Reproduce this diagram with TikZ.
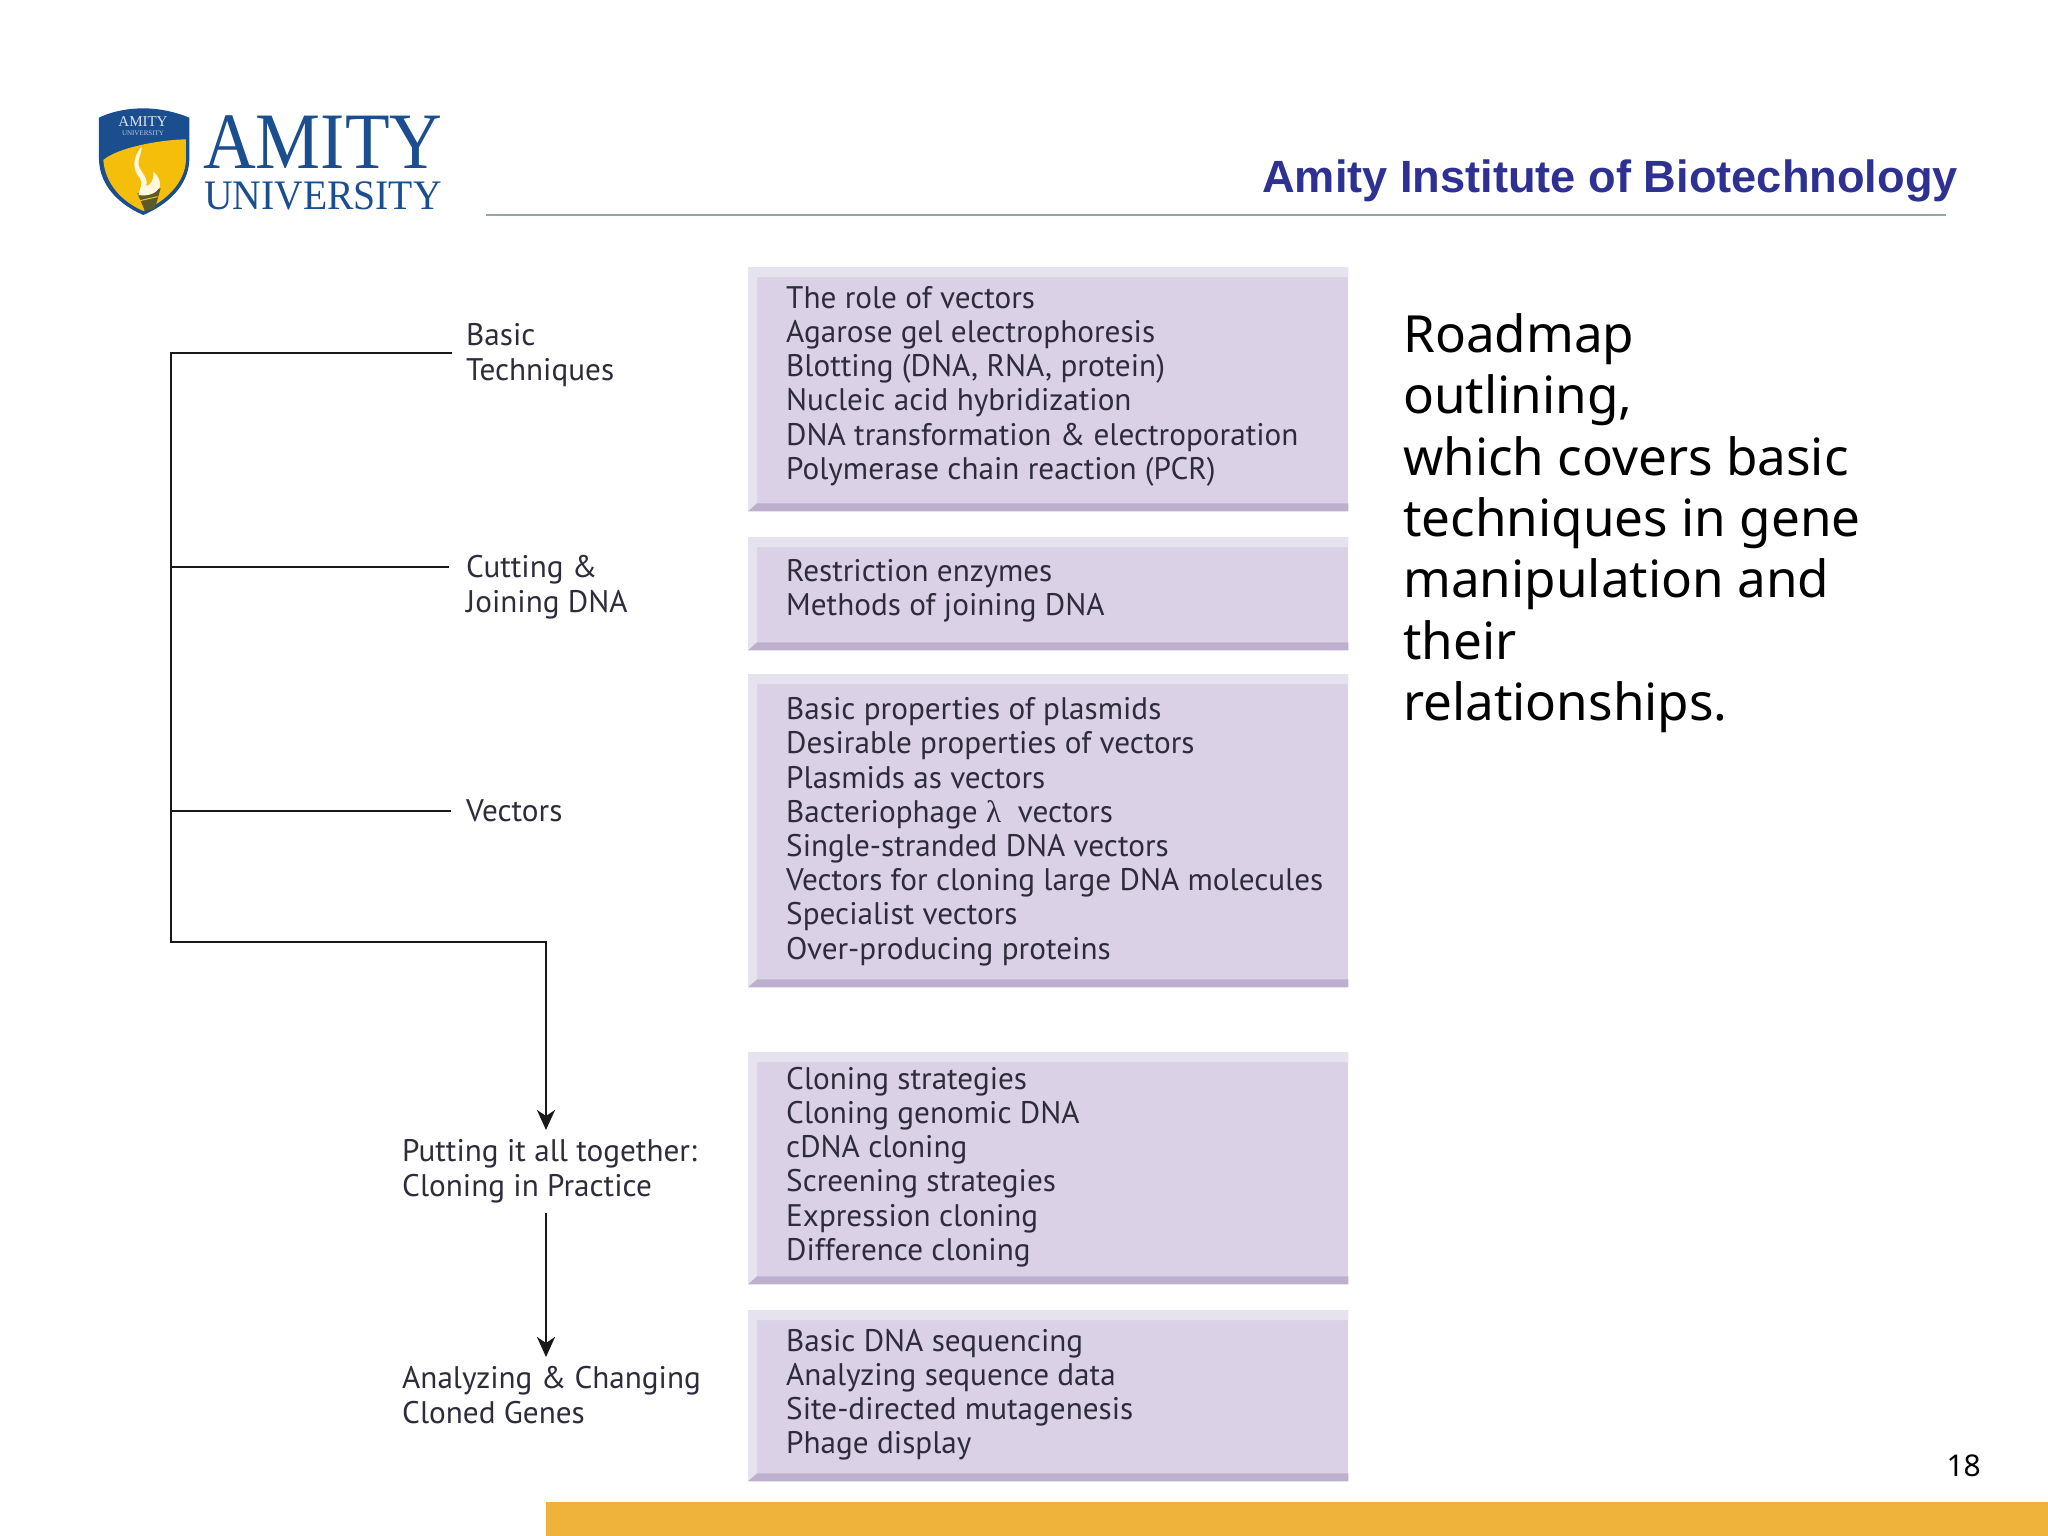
\documentclass[tikz,border=0pt]{standalone}
\usepackage{fontspec}
\usetikzlibrary{arrows.meta}
\setmainfont{Liberation Sans}
\newfontfamily\notefont{Noto Sans}
\newfontfamily\logofont{Liberation Serif}
\newfontfamily\figfont{PT Sans}
\definecolor{boxfill}{HTML}{DAD1E6}
\definecolor{boxtop}{HTML}{E6E2EE}
\definecolor{boxbot}{HTML}{BDB0CE}
\definecolor{figtext}{HTML}{2E2C3A}
\definecolor{headblue}{HTML}{2E3192}
\definecolor{rulecol}{HTML}{8FA8A6}
\definecolor{barcol}{HTML}{EFB23A}
\definecolor{logoblue}{HTML}{1B4E8F}
\definecolor{logogold}{HTML}{F5BE0B}
\definecolor{flamecol}{HTML}{FFF8E0}
\definecolor{torchcol}{HTML}{5C5A2A}
\newcommand{\firstline}{\rule{0pt}{24pt}}
\newcommand{\bevelbox}[1]{%
  \fill[boxtop] (#1.north west) -- (#1.north east) -- ([yshift=-10pt]#1.north east) -- ([xshift=9pt,yshift=-10pt]#1.north west) -- ([xshift=9pt,yshift=8pt]#1.south west) -- (#1.south west) -- cycle;
  \fill[boxbot] (#1.south west) -- ([xshift=9pt,yshift=8pt]#1.south west) -- ([yshift=8pt]#1.south east) -- (#1.south east) -- cycle;}
\tikzset{
  panel/.style={anchor=north west,minimum width=600pt,inner sep=0pt,fill=boxfill},
  paneltext/.style={anchor=north west,inner sep=0pt,align=left,text=figtext,font=\figfont\fontsize{31.2}{34.2}\selectfont},
  steplabel/.style={anchor=north west,inner sep=0pt,align=left,text=figtext,font=\figfont\fontsize{31.2}{35}\selectfont},
  link/.style={line width=2.8pt,draw=black!90},
  linkarrow/.style={link,-{Stealth[length=20pt,width=18pt,inset=6pt]}}
}
\begin{document}
\begin{tikzpicture}[x=1pt,y=-1pt]
\useasboundingbox (0,0) rectangle (2048,1536);
% footer bar and page number
\fill[barcol] (546,1502) rectangle (2048,1536);
\node[anchor=base east,inner sep=0pt,font=\notefont\fontsize{30}{34}\selectfont] (pageno) at (1981,1476) {18};
% header
\node[anchor=base east,inner sep=0pt,text=headblue,font=\bfseries\fontsize{45.2}{50}\selectfont] (head) at (1958,192) {Amity Institute of Biotechnology};
\draw[rulecol,line width=1.6pt] (486,215) -- (1946,215);
% logo
\begin{scope}[shift={(60,80)},x=0.3333pt,y=-0.3333pt]
\fill[logoblue] (117,113) .. controls (160,92) and (210,85) .. (250,85) .. controls (295,85) and (345,95) .. (388,113) -- (388,240) .. controls (385,320) and (320,375) .. (250,405) .. controls (180,375) and (120,320) .. (117,240) -- cycle;
\fill[logogold] (130,240) .. controls (170,205) and (290,180) .. (378,178) -- (378,240) .. controls (375,310) and (315,365) .. (250,393) .. controls (185,365) and (135,310) .. (130,240) -- cycle;
\fill[torchcol] (232,340) -- (302,325) -- (285,385) -- (255,393) -- cycle;
\draw[logogold,line width=1pt] (240,362) -- (293,350);
\fill[flamecol] (245,200) .. controls (215,235) and (218,270) .. (240,295) .. controls (250,310) and (240,325) .. (235,345) .. controls (265,350) and (290,340) .. (300,320) .. controls (302,300) and (292,285) .. (280,275) .. controls (282,300) and (272,318) .. (258,318) .. controls (268,295) and (240,275) .. (236,255) .. controls (232,235) and (245,225) .. (245,200) -- cycle;
\end{scope}
\node[inner sep=0pt,text=white!85!logoblue,font=\logofont\fontsize{15}{15}\selectfont] (shielda) at (143,122) {AMITY};
\node[inner sep=0pt,text=white!70!logoblue,font=\logofont\fontsize{7}{7}\selectfont] (shieldu) at (143,133.5) {UNIVERSITY};
\node[anchor=base west,inner sep=0pt,xscale=0.913,text=logoblue,font=\logofont\fontsize{80}{80}\selectfont] (logoa) at (203,168) {AMITY};
\node[anchor=base west,inner sep=0pt,xscale=0.943,text=logoblue,font=\logofont\fontsize{42}{42}\selectfont] (logou) at (204,209) {UNIVERSITY};
% panels
\node[panel,minimum height=244pt] (p1) at (748,267) {};
\node[panel,minimum height=113pt] (p2) at (748,537) {};
\node[panel,minimum height=313pt] (p3) at (748,674) {};
\node[panel,minimum height=232pt] (p4) at (748,1052) {};
\node[panel,minimum height=171pt] (p5) at (748,1310) {};
\bevelbox{p1}\bevelbox{p2}\bevelbox{p3}\bevelbox{p4}\bevelbox{p5}
\node[paneltext] (t1) at (786,284) {\firstline The role of vectors\\Agarose gel electrophoresis\\Blotting (DNA, RNA, protein)\\Nucleic acid hybridization\\DNA transformation \& electroporation\\Polymerase chain reaction (PCR)};
\node[paneltext] (t2) at (786,557) {\firstline Restriction enzymes\\Methods of joining DNA};
\node[paneltext] (t3) at (786,695.5) {\firstline Basic properties of plasmids\\Desirable properties of vectors\\Plasmids as vectors\\Bacteriophage {\logofont λ}\ \ vectors\\Single-stranded DNA vectors\\Vectors for cloning large DNA molecules\\Specialist vectors\\Over-producing proteins};
\node[paneltext] (t4) at (786,1065) {\firstline Cloning strategies\\Cloning genomic DNA\\cDNA cloning\\Screening strategies\\Expression cloning\\Difference cloning};
\node[paneltext] (t5) at (786,1327) {\firstline Basic DNA sequencing\\Analyzing sequence data\\Site-directed mutagenesis\\Phage display};
% step labels
\node[steplabel] (basic) at (466,321.5) {\firstline Basic\\Techniques};
\node[steplabel] (cutting) at (466,553) {\firstline Cutting \&\\Joining DNA};
\node[steplabel] (vectors) at (466,797) {\firstline Vectors};
\node[steplabel] (putting) at (402,1137.5) {\firstline Putting it all together:\\Cloning in Practice};
\node[steplabel] (analyzing) at (402,1364) {\firstline Analyzing \& Changing\\Cloned Genes};
% connectors
\coordinate (basicend) at (452,353);
\coordinate (cutend) at (449,567);
\coordinate (vecend) at (451,811);
\coordinate (spinetop) at (171,353);
\coordinate (spinebot) at (171,942);
\coordinate (turn) at (546,942);
\coordinate (puttip) at (546,1130);
\coordinate (putout) at (546,1213);
\coordinate (anatip) at (546,1357);
\draw[link,line join=miter] (basicend) -- (spinetop) -- (spinebot) -- (turn);
\draw[link] (spinetop |- cutend) -- (cutend);
\draw[link] (spinetop |- vecend) -- (vecend);
\draw[linkarrow,line cap=rect] (turn) -- (puttip);
\draw[linkarrow] (putout) -- (anatip);
% side note
\node[anchor=north west,inner sep=0pt,align=left,font=\notefont\fontsize{51.2}{61.3}\selectfont] (note) at (1403,313.5) {Roadmap\\outlining,\\which covers basic\\techniques in gene\\manipulation and\\their\\relationships.};
\end{tikzpicture}
\end{document}
